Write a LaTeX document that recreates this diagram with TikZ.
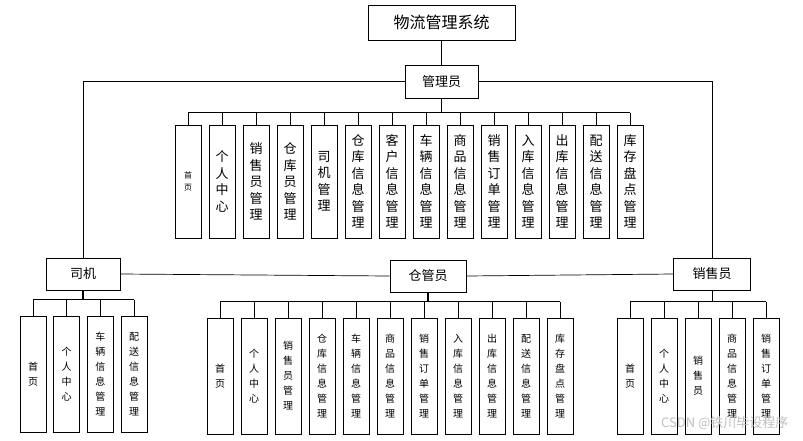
\documentclass[tikz,border=0pt]{standalone}
\usepackage{fontspec}
\newfontfamily\cjk{Noto Sans CJK SC}
\begin{document}
\begin{tikzpicture}[x=1pt,y=-1pt,
  box/.style={draw,line width=0.8pt,fill=white,inner sep=0pt,font=\cjk\fontsize{#1}{#1}\selectfont},
  box/.default=13,
  leaf/.style={draw,line width=0.8pt,inner sep=0pt,minimum width=26pt,minimum height=113pt,align=center,font=\cjk\fontsize{13}{16.5}\selectfont},
  sleaf/.style={draw,line width=0.8pt,inner sep=0pt,minimum width=26pt,minimum height=116pt,align=center,font=\cjk\fontsize{10}{15}\selectfont},
  ln/.style={line width=0.7pt}]
\useasboundingbox (0,0) rectangle (803,440);
\node[box=16,minimum width=147pt,minimum height=35pt] (root) at (441.5,22.5) {物流管理系统};
\node[box,minimum width=73pt,minimum height=33pt] (adm) at (441.5,81.5) {管理员};
\draw[ln] (root) -- (adm);
% admin children
\foreach \t [count=\i from 0] in {{首\\页},{个\\人\\中\\心},{销\\售\\员\\管\\理},{仓\\库\\员\\管\\理},{司\\机\\管\\理},{仓\\库\\信\\息\\管\\理},{客\\户\\信\\息\\管\\理},{车\\辆\\信\\息\\管\\理},{商\\品\\信\\息\\管\\理},{销\\售\\订\\单\\管\\理},{入\\库\\信\\息\\管\\理},{出\\库\\信\\息\\管\\理},{配\\送\\信\\息\\管\\理},{库\\存\\盘\\点\\管\\理}}{
  \ifnum\i=0
    \node[leaf,font=\cjk\fontsize{8}{12}\selectfont] (a\i) at ({188+34*\i},181.5) {\t};
  \else
    \node[leaf] (a\i) at ({188+34*\i},181.5) {\t};
  \fi
  \draw[ln] (a\i.north) -- ++(0,-12);
}
\draw[line width=1.2pt] ([yshift=12pt]a0.north) -- ([yshift=12pt]a13.north);
\draw[line width=1.2pt] (adm.south) -- ++(0,15);
% roles
\node[box,minimum width=74pt,minimum height=32pt] (drv) at (83,274) {司机};
\node[box,minimum width=76pt,minimum height=32pt] (wh) at (428,276) {仓管员};
\node[box,minimum width=77pt,minimum height=32pt] (sal) at (712,274) {销售员};
\draw[ln] (adm.west) -- (83,81.5) -- (drv.north);
\draw[ln] (adm.east) -- (712,81.5) -- (sal.north);
\draw[ln] (drv.east) -- (wh.west);
\draw[ln] (wh.east) -- (sal.west);
% driver
\foreach \t [count=\i from 0] in {{首\\页},{个\\人\\中\\心},{车\\辆\\信\\息\\管\\理},{配\\送\\信\\息\\管\\理}}{
  \node[sleaf] (d\i) at ({33+33.7*\i},374) {\t};
  \draw[ln] (d\i.north) -- ++(0,-16);
}
\draw[ln] ([yshift=16pt]d0.north) -- ([yshift=16pt]d3.north);
\draw[line width=1.2pt] (drv.south) -- ++(0,10);
% warehouse
\foreach \t [count=\i from 0] in {{首\\页},{个\\人\\中\\心},{销\\售\\员\\管\\理},{仓\\库\\信\\息\\管\\理},{车\\辆\\信\\息\\管\\理},{商\\品\\信\\息\\管\\理},{销\\售\\订\\单\\管\\理},{入\\库\\信\\息\\管\\理},{出\\库\\信\\息\\管\\理},{配\\送\\信\\息\\管\\理},{库\\存\\盘\\点\\管\\理}}{
  \node[sleaf] (w\i) at ({220+34*\i},376) {\t};
  \draw[ln] (w\i.north) -- ++(0,-16);
}
\draw[ln] ([yshift=16pt]w0.north) -- ([yshift=16pt]w10.north);
\draw[line width=1.2pt] (wh.south) -- ++(0,10);
% sales
\foreach \t [count=\i from 0] in {{首\\页},{个\\人\\中\\心},{销\\售\\员},{商\\品\\信\\息\\管\\理},{销\\售\\订\\单\\管\\理}}{
  \node[sleaf] (s\i) at ({630+34*\i},376) {\t};
  \draw[ln] (s\i.north) -- ++(0,-16);
}
\draw[ln] ([yshift=16pt]s0.north) -- ([yshift=16pt]s4.north);
\draw[ln] (sal.south) -- ++(0,12);
\node[text=gray!50,font=\cjk\fontsize{13}{13}\selectfont,anchor=east] (wm) at (792,423) {CSDN @铁川毕设程序};
\end{tikzpicture}
\end{document}
